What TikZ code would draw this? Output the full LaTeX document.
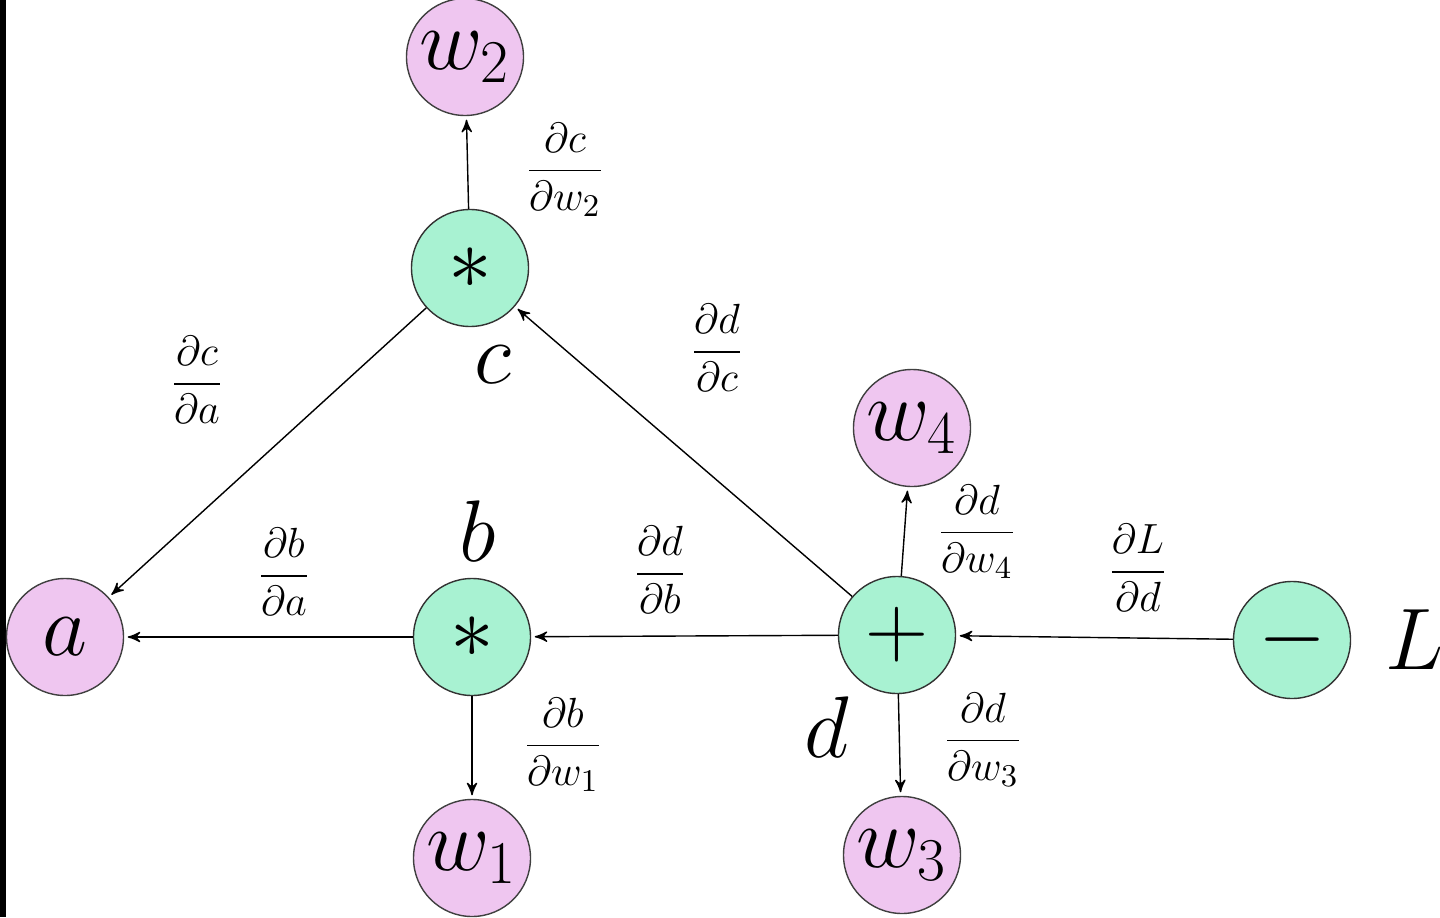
\documentclass[tikz,border=0pt]{standalone}
\usetikzlibrary{arrows}
\definecolor{wpink}{HTML}{EFC6F0}
\definecolor{opgreen}{HTML}{A8F2D2}
\tikzset{
  var/.style={circle, draw=black!75, fill=wpink, minimum size=1.17cm, inner sep=0pt, font=\fontsize{25}{27}\selectfont},
  op/.style={circle, draw=black!80, fill=opgreen, minimum size=1.17cm, inner sep=0pt, font=\fontsize{26}{28}\selectfont},
  grad/.style={font=\fontsize{13}{15}\selectfont},
  opname/.style={font=\fontsize{30}{32}\selectfont, inner sep=1pt},
  back/.style={-stealth', thin, shorten >=1pt}
}
\begin{document}
\begin{tikzpicture}
    \useasboundingbox (0,0) rectangle (14.4,9.17);
    \fill[black] (0,0) rectangle (0.06,9.17);

    % nodes
    \node[var] (a) at (0.65,2.80) {$a$};
    \node[op] (b) at (4.72,2.80) {$*$};
    \node[op] (c) at (4.70,6.49) {$*$};
    \node[var] (w2) at (4.65,8.60) {$w_2$};
    \node[var] (w1) at (4.72,0.59) {$w_1$};
    \node[op] (d) at (8.97,2.82) {$+$};
    \node[var] (w4) at (9.12,4.89) {$w_4$};
    \node[var] (w3) at (9.02,0.62) {$w_3$};
    \node[op] (l) at (12.92,2.77) {$-$};

    % names
    \node[opname] (cname) at (4.93,5.52) {$c$};
    \node[opname] (bname) at (4.78,3.86) {$b$};
    \node[opname] (dname) at (8.27,1.90) {$d$};
    \node[opname] (lname) at (14.15,2.77) {$L$};

    % connectors
    \draw[back] (l) -- (d);
    \draw[back] (d) -- (b);
    \draw[back] (b) -- (a);
    \draw[back] (c) -- (a);
    \draw[back] (d) -- (c);
    \draw[back] (c) -- (w2);
    \draw[back] (b) -- (w1);
    \draw[back] (d) -- (w4);
    \draw[back] (d) -- (w3);

    % gradients
    \node[grad] (gcw2) at (5.65,7.47) {$\displaystyle\frac{\partial c}{\partial w_2}$};
    \node[grad] (gdc) at (7.17,5.69) {$\displaystyle\frac{\partial d}{\partial c}$};
    \node[grad] (gca) at (1.97,5.37) {$\displaystyle\frac{\partial c}{\partial a}$};
    \node[grad] (gba) at (2.84,3.45) {$\displaystyle\frac{\partial b}{\partial a}$};
    \node[grad] (gdb) at (6.60,3.47) {$\displaystyle\frac{\partial d}{\partial b}$};
    \node[grad] (gdw4) at (9.77,3.85) {$\displaystyle\frac{\partial d}{\partial w_4}$};
    \node[grad] (gld) at (11.38,3.49) {$\displaystyle\frac{\partial L}{\partial d}$};
    \node[grad] (gbw1) at (5.63,1.72) {$\displaystyle\frac{\partial b}{\partial w_1}$};
    \node[grad] (gdw3) at (9.83,1.77) {$\displaystyle\frac{\partial d}{\partial w_3}$};
\end{tikzpicture}
\end{document}
